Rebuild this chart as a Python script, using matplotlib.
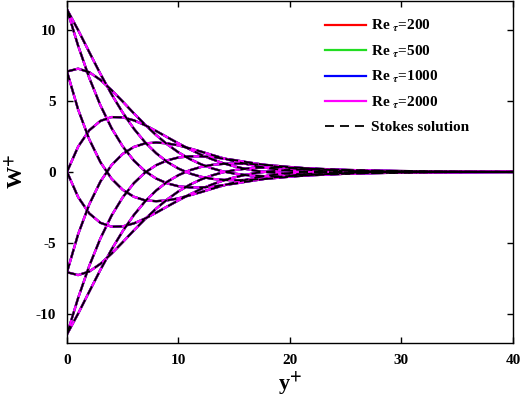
import matplotlib
matplotlib.use("Agg")
import matplotlib.pyplot as plt

# wall distance y+ where the profiles were read
yp = [0, 1, 2, 3, 4, 5, 6, 7, 8, 9, 10, 11, 12, 13, 14, 15, 16, 17, 18, 19,
      20, 21, 22, 23, 24, 25, 26, 28, 30, 33, 36, 40]

# W+ profiles, one per phase of the wall oscillation (T+=100, W_m+=12)
w_ph0 = [0.0, -1.77, -2.92, -3.58, -3.85, -3.83, -3.62, -3.28, -2.87, -2.43, -2.0, -1.59,
         -1.21, -0.89, -0.61, -0.39, -0.21, -0.07, 0.02, 0.09, 0.14, 0.16, 0.17, 0.16,
         0.15, 0.14, 0.12, 0.08, 0.05, 0.01, 0.0, -0.01]
w_ph1 = [7.05, 4.38, 2.28, 0.68, -0.48, -1.26, -1.75, -2.0, -2.06, -2.0, -1.86, -1.65,
         -1.43, -1.19, -0.96, -0.75, -0.57, -0.4, -0.27, -0.16, -0.08, -0.01, 0.03, 0.06,
         0.08, 0.09, 0.09, 0.08, 0.06, 0.03, 0.01, 0.0]
w_ph2 = [11.41, 8.86, 6.6, 4.67, 3.07, 1.79, 0.79, 0.05, -0.47, -0.81, -1.01, -1.09,
         -1.09, -1.04, -0.94, -0.83, -0.7, -0.58, -0.46, -0.35, -0.26, -0.18, -0.12, -0.06,
         -0.02, 0.0, 0.03, 0.04, 0.05, 0.03, 0.02, 0.0]
w_ph3 = [11.41, 9.96, 8.41, 6.88, 5.45, 4.16, 3.03, 2.08, 1.31, 0.69, 0.23, -0.11,
         -0.34, -0.49, -0.56, -0.59, -0.57, -0.53, -0.48, -0.41, -0.34, -0.28, -0.22, -0.17,
         -0.12, -0.08, -0.05, -0.01, 0.02, 0.03, 0.02, 0.01]
w_ph4 = [7.05, 7.25, 7.0, 6.46, 5.74, 4.94, 4.11, 3.32, 2.58, 1.93, 1.37, 0.91,
         0.54, 0.25, 0.03, -0.12, -0.22, -0.28, -0.31, -0.31, -0.3, -0.27, -0.24, -0.2,
         -0.17, -0.13, -0.1, -0.05, -0.02, 0.01, 0.01, 0.01]
w_ph5 = [0.0, 1.77, 2.92, 3.58, 3.85, 3.83, 3.62, 3.28, 2.87, 2.43, 2.0, 1.59,
         1.21, 0.89, 0.61, 0.39, 0.21, 0.07, -0.02, -0.09, -0.14, -0.16, -0.17, -0.16,
         -0.15, -0.14, -0.12, -0.08, -0.05, -0.01, 0.0, 0.01]
w_ph6 = [-7.05, -4.38, -2.28, -0.68, 0.48, 1.26, 1.75, 2.0, 2.06, 2.0, 1.86, 1.65,
         1.43, 1.19, 0.96, 0.75, 0.57, 0.4, 0.27, 0.16, 0.08, 0.01, -0.03, -0.06,
         -0.08, -0.09, -0.09, -0.08, -0.06, -0.03, -0.01, 0.0]
w_ph7 = [-11.41, -8.86, -6.6, -4.67, -3.07, -1.79, -0.79, -0.05, 0.47, 0.81, 1.01, 1.09,
         1.09, 1.04, 0.94, 0.83, 0.7, 0.58, 0.46, 0.35, 0.26, 0.18, 0.12, 0.06,
         0.02, 0.0, -0.03, -0.04, -0.05, -0.03, -0.02, 0.0]
w_ph8 = [-11.41, -9.96, -8.41, -6.88, -5.45, -4.16, -3.03, -2.08, -1.31, -0.69, -0.23, 0.11,
         0.34, 0.49, 0.56, 0.59, 0.57, 0.53, 0.48, 0.41, 0.34, 0.28, 0.22, 0.17,
         0.12, 0.08, 0.05, 0.01, -0.02, -0.03, -0.02, -0.01]
w_ph9 = [-7.05, -7.25, -7.0, -6.46, -5.74, -4.94, -4.11, -3.32, -2.58, -1.93, -1.37, -0.91,
         -0.54, -0.25, -0.03, 0.12, 0.22, 0.28, 0.31, 0.31, 0.3, 0.27, 0.24, 0.2,
         0.17, 0.13, 0.1, 0.05, 0.02, -0.01, -0.01, -0.01]
profils = [w_ph0, w_ph1, w_ph2, w_ph3, w_ph4, w_ph5, w_ph6, w_ph7, w_ph8, w_ph9]

re_tau = ['200', '500', '1000', '2000']
couleurs = ['red', '#22dd22', 'blue', 'magenta']

plt.rcParams['font.family'] = 'Liberation Serif'
plt.rcParams['font.weight'] = 'bold'
plt.rcParams['mathtext.fontset'] = 'stix'
plt.rcParams['axes.unicode_minus'] = False

fig = plt.figure(figsize=(5.2, 4.01), dpi=100)
ax = fig.add_axes([0.1288, 0.1454, 0.8577, 0.852])

# les DNS tombent sur la solution de Stokes
for re, c in zip(re_tau, couleurs):
    for i, w in enumerate(profils):
        ax.plot(yp, w, color=c, lw=1.6,
                label='Re $_{\\tau}$=' + re if i == 0 else None)
for i, w in enumerate(profils):
    ax.plot(yp, w, color='k', lw=1.3, dashes=(5, 3.3),
            label='Stokes solution' if i == 0 else None)

ax.set_xlim(0, 40)
ax.set_ylim(-12, 12)
ax.set_xticks([0, 10, 20, 30, 40])
ax.set_yticks([-10, -5, 0, 5, 10])
ax.tick_params(direction='in', top=True, right=True, length=4, width=1,
               labelsize=11, pad=8)
for s in ax.spines.values():
    s.set_linewidth(1.0)

ax.set_xlabel('y$^{\\mathbf{+}}$', fontsize=16, fontweight='bold', labelpad=2)
ax.set_ylabel('W$^{\\mathbf{+}}$', fontsize=16, fontweight='bold', labelpad=6)

ax.legend(loc='upper left', bbox_to_anchor=(0.578, 0.95), frameon=False,
          fontsize=11, handlelength=2.7, handletextpad=0.3, labelspacing=0.62,
          borderpad=0, borderaxespad=0)

fig.savefig('out.png')
